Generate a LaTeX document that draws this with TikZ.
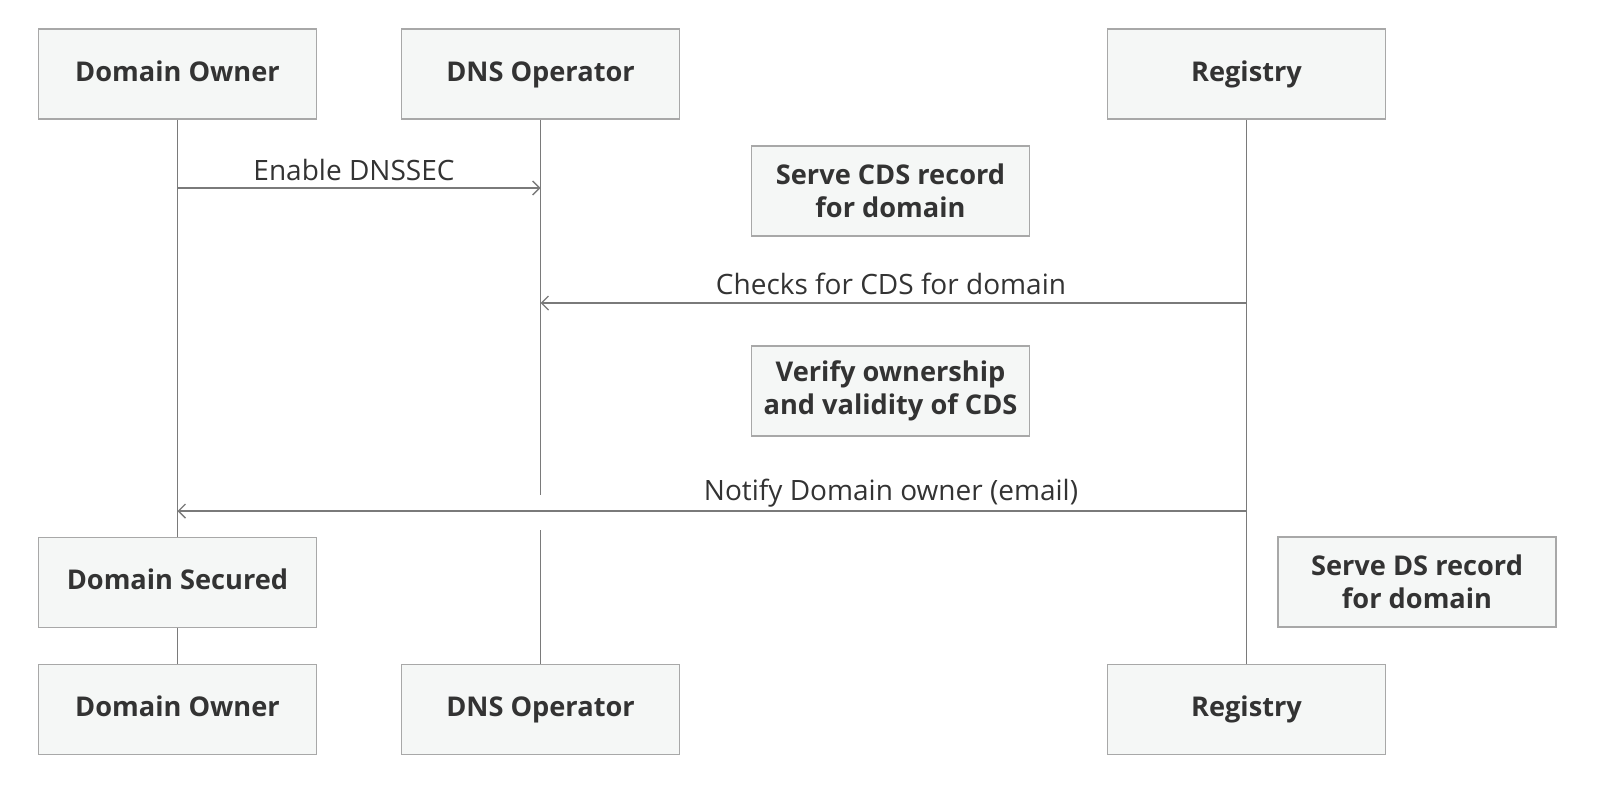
\documentclass[tikz,border=0pt]{standalone}
\usepackage{fontspec}
\setmainfont{Open Sans}
\usetikzlibrary{arrows.meta}
\definecolor{boxfill}{HTML}{F5F7F6}
\definecolor{boxline}{HTML}{A8A8A8}
\definecolor{lifeline}{HTML}{7A7A7A}
\definecolor{txt}{HTML}{333333}
\begin{document}
\begin{tikzpicture}[x=0.5pt,y=-0.5pt,
  box/.style={draw=boxline, fill=boxfill, line width=0.6pt, minimum width=139pt, minimum height=45pt, inner sep=0pt, text=txt, font=\fontsize{13.6}{16.5}\selectfont\bfseries, align=center},
  actor/.style={box, text height=0.72em, text depth=0pt},
  life/.style={draw=lifeline, line width=0.7pt},
  msg/.style={draw=lifeline, line width=0.7pt, -{Straight Barb[length=3.5pt,width=7pt]}},
  lbl/.style={text=txt, font=\fontsize{14}{16}\selectfont, inner sep=0pt}]
\useasboundingbox (0,0) rectangle (1600,793);
% top actors
\node[actor] (do) at (177.5,74) {Domain Owner};
\node[actor] (dns) at (540.5,74) {DNS Operator};
\node[actor] (reg) at (1246.5,74) {Registry};
% bottom actors
\node[actor] (do2) at (177.5,709.5) {Domain Owner};
\node[actor] (dns2) at (540.5,709.5) {DNS Operator};
\node[actor] (reg2) at (1246.5,709.5) {Registry};
% notes
\node[box] (cds) at (890.5,191) {Serve CDS record\\for domain};
\node[box] (ver) at (890.5,391) {Verify ownership\\and validity of CDS};
\node[actor] (sec) at (177.5,582.5) {Domain Secured};
\node[box] (ds) at (1417,582) {Serve DS record\\for domain};
% lifelines
\coordinate (dnsbreak1) at (dns.south |- 0,495);
\coordinate (dnsbreak2) at (dns.south |- 0,530);
\draw[life] (do.south) -- (sec.north);
\draw[life] (sec.south) -- (do2.north);
\draw[life] (dns.south) -- (dnsbreak1);
\draw[life] (dnsbreak2) -- (dns2.north);
\draw[life] (reg.south) -- (reg2.north);
% messages
\coordinate (m1a) at (do.south |- 0,188);
\coordinate (m1b) at (dns.south |- 0,188);
\draw[msg] (m1a) -- (m1b);
\node[lbl, anchor=base] (l1) at (354,180) {Enable DNSSEC};
\coordinate (m2a) at (reg.south |- 0,303);
\coordinate (m2b) at (dns.south |- 0,303);
\draw[msg] (m2a) -- (m2b);
\node[lbl, anchor=base] (l2) at (891,294) {Checks for CDS for domain};
\coordinate (m3a) at (reg.south |- 0,511);
\coordinate (m3b) at (do.south |- 0,511);
\draw[msg] (m3a) -- (m3b);
\node[lbl, anchor=base] (l3) at (891,500) {Notify Domain owner (email)};
\end{tikzpicture}
\end{document}
